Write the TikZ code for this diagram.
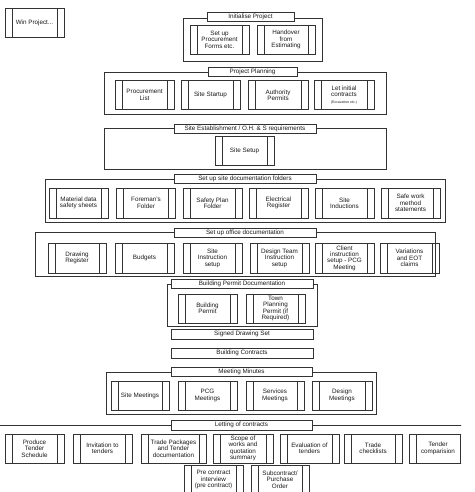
\documentclass[tikz,border=0pt]{standalone}
\usepackage{fontspec}
\setmainfont{Liberation Sans}
\begin{document}
\begin{tikzpicture}[x=1pt,y=-1pt,line width=0.7pt,
  every node/.style={font=\fontsize{6.3}{6.4}\selectfont,inner sep=0pt,text=black!90},
  procbox/.style={draw=black!80,rectangle,minimum width=59pt,minimum height=29pt,align=center,
    path picture={
      \draw[black!80,line width=0.7pt] ([xshift=7pt]path picture bounding box.north west) -- ([xshift=7pt]path picture bounding box.south west);
      \draw[black!80,line width=0.7pt] ([xshift=-7pt]path picture bounding box.north east) -- ([xshift=-7pt]path picture bounding box.south east);}},
  groupframe/.style={draw=black!80,rectangle},
  grouptitle/.style={draw=black!80,fill=white,rectangle,minimum width=142pt,minimum height=9pt}]
\useasboundingbox (0,0) rectangle (474,492);
\clip (0,0) rectangle (461,492);

% start
\node[procbox] (win) at (34.5,22.5) {Win Project...};

% initialise project
\node[groupframe,minimum width=139pt,minimum height=43pt] (initframe) at (252.5,39.5) {};
\node[grouptitle,minimum width=87pt] (inittitle) at (250.5,17) {Initialise Project};
\node[procbox] (procforms) at (219.5,39.5) {Set up\\Procurement\\Forms etc.};
\node[procbox,minimum width=58pt] (handover) at (286,39.5) {Handover\\from\\Estimating};

% project planning
\node[groupframe,minimum width=282pt,minimum height=42pt] (planframe) at (245,93) {};
\node[grouptitle,minimum width=89pt] (plantitle) at (252.5,71.5) {Project Planning};
\node[procbox] (proclist) at (144.5,95) {Procurement\\List};
\node[procbox] (startup) at (210.5,95) {Site Startup};
\node[procbox,minimum width=60pt] (authority) at (278,95) {Authority\\Permits};
\node[procbox,minimum width=60pt] (initial) at (344,95) {Let initial\\contracts\\{\fontsize{3.5}{4}\selectfont (Excavation etc.)}};

% site establishment
\node[groupframe,minimum width=282pt,minimum height=41pt] (estframe) at (245,148.5) {};
\node[grouptitle] (esttitle) at (245,128.5) {Site Establishment / O.H. \& S requirements};
\node[procbox] (setup) at (244.5,150.5) {Site Setup};

% site documentation folders
\node[groupframe,minimum width=400pt,minimum height=43pt] (siteframe) at (245,200.5) {};
\node[grouptitle] (sitetitle) at (245,178.5) {Set up site documentation folders};
\node[procbox,minimum height=30pt] (material) at (78.5,203) {Material data\\safety sheets};
\node[procbox,minimum height=30pt] (foreman) at (146,203) {Foreman's\\Folder};
\node[procbox,minimum height=30pt] (safety) at (212.5,203) {Safety Plan\\Folder};
\node[procbox,minimum height=30pt] (electrical) at (278.5,203) {Electrical\\Register};
\node[procbox,minimum height=30pt] (inductions) at (344.5,203) {Site\\Inductions};
\node[procbox,minimum height=30pt] (safework) at (410.5,203) {Safe work\\method\\statements};

% office documentation
\node[groupframe,minimum width=400pt,minimum height=44pt] (officeframe) at (235,254) {};
\node[grouptitle] (officetitle) at (245,232.5) {Set up office documentation};
\node[procbox,minimum width=58pt,minimum height=30pt] (drawing) at (77,258) {Drawing\\Register};
\node[procbox,minimum height=30pt] (budgets) at (144.5,258) {Budgets};
\node[procbox,minimum height=30pt] (siteinstr) at (212.5,258) {Site\\Instruction\\setup};
\node[procbox,minimum height=30pt] (design) at (279.5,258) {Design Team\\Instruction\\setup};
\node[procbox,minimum height=30pt] (client) at (344.5,258) {Client\\instruction\\setup - PCG\\Meeting};
\node[procbox,minimum height=30pt] (variations) at (409.5,258) {Variations\\and EOT\\claims};

% building permit
\node[groupframe,minimum width=150pt,minimum height=42pt] (permitframe) at (242,305) {};
\node[grouptitle] (permittitle) at (242,283.5) {Building Permit Documentation};
\node[procbox] (permit) at (207.5,308.5) {Building\\Permit};
\node[procbox] (planning) at (275.5,308.5) {Town\\Planning\\Permit (if\\Required)};

% single steps
\node[grouptitle,minimum height=10pt] (signed) at (242,334) {Signed Drawing Set};
\node[grouptitle,minimum height=10pt] (contracts) at (242,353) {Building Contracts};

% meeting minutes
\node[groupframe,minimum width=270pt,minimum height=42pt] (meetframe) at (241,393) {};
\node[grouptitle,minimum width=141pt] (meettitle) at (241.5,371.5) {Meeting Minutes};
\node[procbox,minimum width=58pt] (sitemeet) at (140,395.5) {Site Meetings};
\node[procbox] (pcg) at (207.5,395.5) {PCG\\Meetings};
\node[procbox,minimum width=58pt] (services) at (275,395.5) {Services\\Meetings};
\node[procbox,minimum width=60pt] (designmeet) at (342,395.5) {Design\\Meetings};

% letting of contracts
\node[groupframe,minimum width=480pt,minimum height=90pt] (letframe) at (230,470) {};
\node[grouptitle,minimum width=141pt,minimum height=10pt] (lettitle) at (241.5,425) {Letting of contracts};
\node[procbox] (schedule) at (34.5,448.5) {Produce\\Tender\\Schedule};
\node[procbox] (invitation) at (102.5,448.5) {Invitation to\\tenders};
\node[procbox,minimum width=65pt] (packages) at (173.5,448.5) {Trade Packages\\and Tender\\documentation};
\node[procbox,minimum width=60pt] (scope) at (243,448.5) {Scope of\\works and\\quotation\\summary};
\node[procbox] (evaluation) at (309.5,448.5) {Evaluation of\\tenders};
\node[procbox,minimum width=58pt] (checklists) at (373,448.5) {Trade\\checklists};
\node[procbox,minimum width=58pt] (comparision) at (438,448.5) {Tender\\comparision};
\node[procbox] (interview) at (213.5,479.5) {Pre contract\\interview\\(pre contract)};
\node[procbox,minimum width=58pt] (subcontract) at (280,479.5) {Subcontract/\\Purchase\\Order};
\end{tikzpicture}
\end{document}
